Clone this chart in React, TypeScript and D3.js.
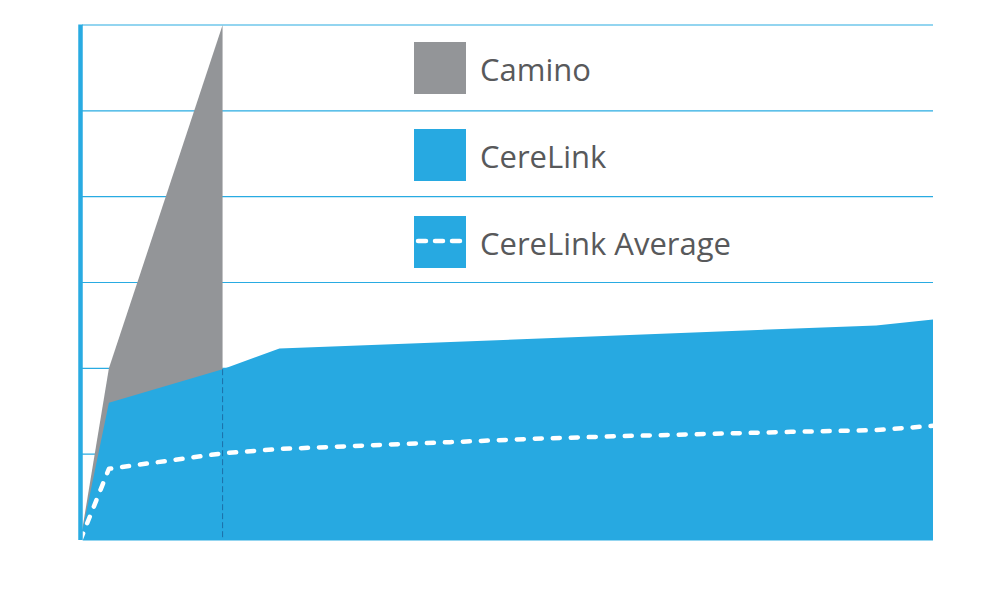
import * as d3 from "d3";
import { useEffect, useRef } from "react";

// days since insertion (x) and drift readings (y)
const caminoDays = [0, 1, 5];
const caminoValues = [0, 2.0, 6.0];

const cerelinkDays = [0, 1, 5, 7, 28, 30];
const cerelinkValues = [0, 1.6, 1.99, 2.23, 2.5, 2.57];

const averageDays = [0, 1, 5, 7, 10, 13, 16, 19, 22, 25, 28, 30];
const averageValues = [0, 0.83, 1.01, 1.06, 1.1, 1.14, 1.18, 1.21, 1.235, 1.26, 1.28, 1.33];

const yTicks = [0, 1, 2, 3, 4, 5, 6];
const markerDay = 5;

const legendLabels = ["Camino", "CereLink", "CereLink Average"];

const WIDTH = 997;
const HEIGHT = 614;
const GREY = "#939598";
const BLUE = "#27a9e1";
const GRID = "#29abe2";
const TEXT = "#58595b";

type Pt = [number, number];

const App = () => {
  const svgRef = useRef<SVGSVGElement>(null);

  useEffect(() => {
    const svgEl = svgRef.current;
    if (!svgEl) return;
    const svg = d3.select(svgEl);
    svg.selectAll("*").remove();

    const x = d3.scaleLinear().domain([0, 30]).range([80.5, 933]);
    const y = d3.scaleLinear().domain([0, 6]).range([540, 25]);

    // gridlines behind everything
    svg
      .append("g")
      .selectAll("line")
      .data(yTicks)
      .join("line")
      .attr("x1", 82)
      .attr("x2", 933)
      .attr("y1", (d) => y(d))
      .attr("y2", (d) => y(d))
      .attr("stroke", GRID)
      .attr("stroke-width", 1.2);

    const area = d3
      .area<Pt>()
      .x((d) => x(d[0]))
      .y0(y(0))
      .y1((d) => y(d[1]));

    const camino: Pt[] = caminoDays.map((d, i) => [d, caminoValues[i]]);
    const cerelink: Pt[] = cerelinkDays.map((d, i) => [d, cerelinkValues[i]]);
    const average: Pt[] = averageDays.map((d, i) => [d, averageValues[i]]);

    svg.append("path").attr("d", area(camino) ?? "").attr("fill", GREY);
    svg.append("path").attr("d", area(cerelink) ?? "").attr("fill", BLUE);

    // day-5 marker
    const markerVal = cerelinkValues[cerelinkDays.indexOf(markerDay)];
    svg
      .append("line")
      .attr("x1", x(markerDay))
      .attr("x2", x(markerDay))
      .attr("y1", y(markerVal))
      .attr("y2", y(0))
      .attr("stroke", "#1d6fa8")
      .attr("stroke-width", 1)
      .attr("stroke-dasharray", "6 3");

    const line = d3
      .line<Pt>()
      .x((d) => x(d[0]))
      .y((d) => y(d[1]));
    svg
      .append("path")
      .attr("d", line(average) ?? "")
      .attr("fill", "none")
      .attr("stroke", "#fff")
      .attr("stroke-width", 4.5)
      .attr("stroke-linecap", "round")
      .attr("stroke-linejoin", "round")
      .attr("stroke-dasharray", "7 11");

    // left axis bar
    svg
      .append("line")
      .attr("x1", 80.5)
      .attr("x2", 80.5)
      .attr("y1", y(6) - 0.6)
      .attr("y2", y(0))
      .attr("stroke", GRID)
      .attr("stroke-width", 4.5);

    // legend
    const legend = svg.append("g").attr("transform", "translate(414,42)");
    const item = legend
      .selectAll("g")
      .data(legendLabels)
      .join("g")
      .attr("transform", (_, i) => `translate(0,${i * 87})`);
    item
      .append("rect")
      .attr("width", 52)
      .attr("height", 52)
      .attr("fill", (_, i) => (i === 0 ? GREY : BLUE));
    item
      .append("text")
      .attr("x", 66)
      .attr("y", 39)
      .attr("fill", TEXT)
      .attr("font-family", "'Open Sans', sans-serif")
      .attr("font-size", 31)
      .text((d) => d);
    legend
      .append("line")
      .attr("x1", 4)
      .attr("x2", 50)
      .attr("y1", 2 * 87 + 25)
      .attr("y2", 2 * 87 + 25)
      .attr("stroke", "#fff")
      .attr("stroke-width", 4.5)
      .attr("stroke-linecap", "round")
      .attr("stroke-dasharray", "8 9");
  }, []);

  return (
    <svg
      ref={svgRef}
      width={WIDTH}
      height={HEIGHT}
      style={{ position: "absolute", left: 0, top: 0, background: "#fff" }}
    />
  );
};

export default App;
